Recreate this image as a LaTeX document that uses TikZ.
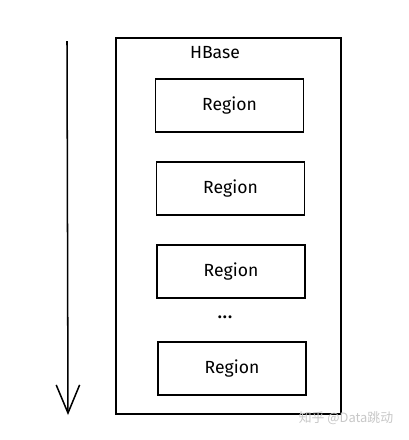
\documentclass[tikz,border=0pt]{standalone}
\usepackage{fontspec}
\setmainfont{Fira Sans}
\newfontfamily\cjk{Noto Sans CJK SC}
\usetikzlibrary{arrows.meta,positioning}
\tikzset{
    every picture/.style={line width=1.2pt},
    outerbox/.style={draw,rectangle,minimum width=6.75cm,minimum height=11.28cm,inner sep=0pt},
    regionbox/.style={draw,rectangle,minimum width=4.44cm,minimum height=1.59cm,inner sep=0pt,font=\fontsize{15}{17}\selectfont},
    mark text/.style={font=\cjk\fontsize{11}{13}\selectfont,text=black!22}
}
\begin{document}
\begin{tikzpicture}[x=0.03cm,y=-0.03cm]
    \useasboundingbox (0,0) rectangle (408,440);
    % time axis
    \coordinate (top) at (67,41);
    \coordinate (bottom) at (68,415);
    \draw[line width=1.3pt,-{Straight Barb[length=24pt,width=20pt,line width=1.3pt]}] (top) -- (bottom);
    % hbase with its regions
    \node[outerbox] (hbase) at (228.5,226) {};
    \node[font=\fontsize{15}{17}\selectfont] (title) at (215,53) {HBase};
    \node[regionbox] (r1) at (229.5,105.5) {Region};
    \node[regionbox] (r2) at (230.5,188.5) {Region};
    \node[regionbox] (r3) at (231,271.5) {Region};
    \node[font=\fontsize{18}{20}\selectfont] (dots) at (225,317) {...};
    \node[regionbox] (r4) at (232,368.5) {Region};
    \node[mark text] (mark) at (346,418) {知乎 @Data跳动};
\end{tikzpicture}
\end{document}
